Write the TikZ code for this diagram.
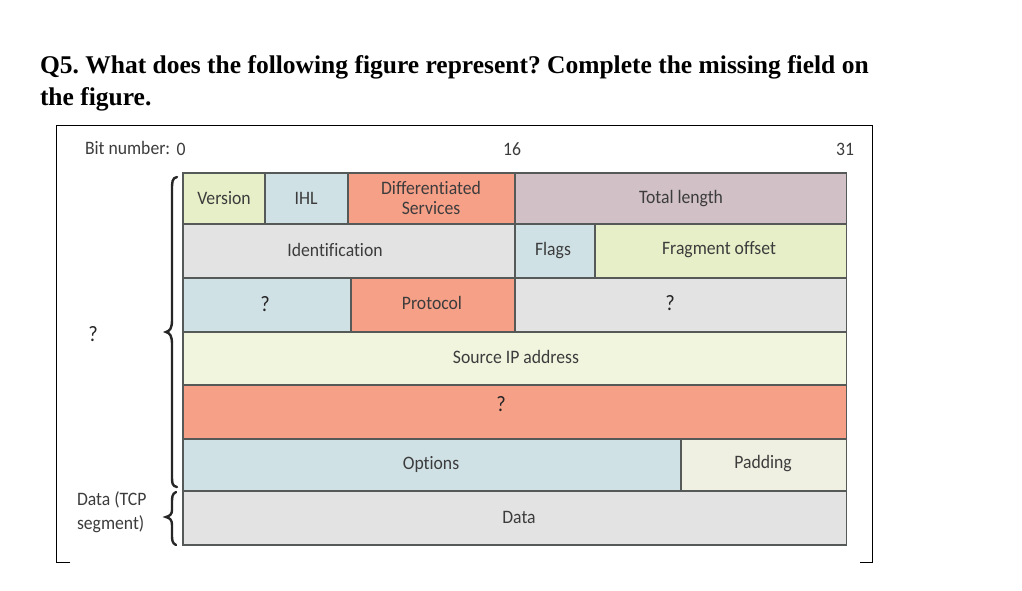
\documentclass[tikz,border=0pt]{standalone}
\usepackage{fontspec}
\setmainfont[FakeStretch=0.93,Ligatures=NoCommon]{Carlito}
\newfontfamily\titlefont{Liberation Serif}
\tikzset{
  x=1pt,y=-1pt,
  cell/.style={draw=cellline,line width=1.1pt,inner sep=0pt,outer sep=0pt,anchor=center},
  lab/.style={inner sep=0pt,outer sep=0pt,text=labeltext,font=\fontsize{19}{20}\selectfont,align=center,anchor=center},
  qmark/.style={inner sep=0pt,outer sep=0pt,text=black!85,font=\fontsize{22}{22}\selectfont,anchor=center},
  titletext/.style={inner sep=0pt,outer sep=0pt,anchor=base west,font=\titlefont\bfseries\frenchspacing\fontsize{25.5}{25.5}\selectfont},
  bracestyle/.style={draw=black!85,line width=2.4pt,line cap=round},
  framestyle/.style={draw=black,line width=1pt}
}
\definecolor{cellline}{HTML}{555A58}
\definecolor{labeltext}{HTML}{3C3C3C}
\definecolor{cgreen}{HTML}{E7EFC8}
\definecolor{cblue}{HTML}{D0E1E6}
\definecolor{corange}{HTML}{F7A088}
\definecolor{cmauve}{HTML}{D1C1C7}
\definecolor{cgrey}{HTML}{E3E3E3}
\definecolor{cpale}{HTML}{F1F5DE}
\definecolor{ccream}{HTML}{F0F0E2}
\newcommand{\cellbox}[6]{\node[cell,fill=#6,minimum width=#4-#2,minimum height=#5-#3] (#1) at ({(#2+#4)/2},{(#3+#5)/2}) {};}
\begin{document}
\begin{tikzpicture}
\useasboundingbox (0,0) rectangle (1022,590);
\fill[white] (0,0) rectangle (1022,590);
\node[titletext] (title1) at (40,73) {Q5. What does the following figure represent? Complete the missing field on};
\node[titletext] (title2) at (40,105) {the figure.};
\draw[framestyle] (70,562) -- (56.5,562) -- (56.5,125) -- (872.5,125) -- (872.5,562) -- (860,562);
\node[lab,anchor=west] (bitnum) at (85,148) {Bit number:};
\node[lab] (b0) at (181,149) {0};
\node[lab] (b16) at (512,149) {16};
\node[lab] (b31) at (845,149) {31};
\cellbox{version}{183}{173}{265}{224}{cgreen}
\cellbox{ihl}{265}{173}{348}{224}{cblue}
\cellbox{ds}{348}{173}{515}{224}{corange}
\cellbox{total}{515}{173}{846.5}{224}{cmauve}
\cellbox{ident}{183}{224}{515}{278}{cgrey}
\cellbox{flags}{515}{224}{595}{278}{cblue}
\cellbox{frag}{595}{224}{846.5}{278}{cgreen}
\cellbox{ttl}{183}{278}{351}{332}{cblue}
\cellbox{proto}{351}{278}{515}{332}{corange}
\cellbox{check}{515}{278}{846.5}{332}{cgrey}
\cellbox{src}{183}{332}{846.5}{385}{cpale}
\cellbox{dst}{183}{385}{846.5}{439}{corange}
\cellbox{opts}{183}{439}{681}{491}{cblue}
\cellbox{pad}{681}{439}{846.5}{491}{ccream}
\cellbox{data}{183}{491}{846.5}{545}{cgrey}
\node[lab] at (224,198) {Version};
\node[lab] at (306,198) {IHL};
\node[lab] at (431,197.5) {\fontsize{19}{20.5}\selectfont Differentiated\\Services};
\node[lab] at (681,198.5) {Total length};
\node[lab] at (335,249.5) {Identification};
\node[lab] at (553,250.5) {Flags};
\node[lab] at (719,250) {Fragment offset};
\node[qmark] at (265,304) {?};
\node[lab] at (432,303) {Protocol};
\node[qmark] at (670,303) {?};
\node[lab] at (516,357) {Source IP address};
\node[qmark] at (501,404) {?};
\node[lab] at (431,464) {Options};
\node[lab] at (763,464) {Padding};
\node[lab] at (519,517) {Data};
\draw[bracestyle] (177,177) .. controls (172,178) and (172,182) .. (172,190) -- (172,320) .. controls (172,328) and (170,331) .. (166,332) .. controls (170,333) and (172,336) .. (172,344) -- (172,476) .. controls (172,483) and (172,486) .. (177,487);
\draw[bracestyle] (176,492) .. controls (172,494) and (172,497) .. (172,503) -- (172,510) .. controls (172,514) and (170,516) .. (166,517) .. controls (170,518) and (172,520) .. (172,525) -- (172,534) .. controls (172,540) and (172,543) .. (176,545);
\node[qmark] (hdr) at (93,334) {?};
\node[lab,anchor=west] (seg) at (77,499.5) {Data (TCP};
\node[lab,anchor=west] (seg2) at (77,524) {segment)};
\end{tikzpicture}
\end{document}
